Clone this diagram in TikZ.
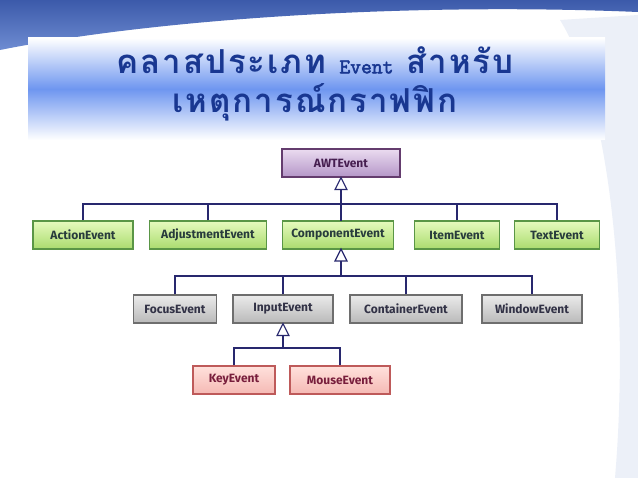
\documentclass[tikz,border=0pt]{standalone}
\usepackage{fontspec}
\setsansfont{Fira Sans}
\newfontfamily\thaifont[Script=Thai,LetterSpace=6]{Loma}
\newfontfamily\monof[FakeBold=2.5]{Latin Modern Mono}
\usetikzlibrary{shadings}
\definecolor{navy}{RGB}{40,40,110}
\definecolor{ttl}{RGB}{25,55,145}
\definecolor{gD}{RGB}{90,150,70}\definecolor{gT}{RGB}{230,250,190}\definecolor{gB}{RGB}{170,220,110}\definecolor{gX}{RGB}{40,60,60}
\definecolor{yD}{RGB}{110,110,110}\definecolor{yT}{RGB}{235,235,235}\definecolor{yB}{RGB}{185,185,185}\definecolor{yX}{RGB}{50,50,70}
\definecolor{pD}{RGB}{100,60,110}\definecolor{pT}{RGB}{235,220,240}\definecolor{pB}{RGB}{180,150,200}\definecolor{pX}{RGB}{70,30,80}
\definecolor{kD}{RGB}{190,90,90}\definecolor{kT}{RGB}{255,225,220}\definecolor{kB}{RGB}{245,185,180}\definecolor{kX}{RGB}{120,30,60}
\definecolor{bgT}{RGB}{60,90,170}\definecolor{bgB}{RGB}{110,140,210}\definecolor{bgR}{RGB}{236,240,248}\definecolor{ban}{RGB}{110,150,240}
\tikzset{
 cls/.style={draw, line width=1.2pt, minimum height=28pt, inner sep=0pt, font=\sffamily\bfseries\fontsize{12}{14}\selectfont},
 grn/.style={cls, draw=gD, top color=gT, bottom color=gB, text=gX},
 gry/.style={cls, draw=yD, top color=yT, bottom color=yB, text=yX},
 prp/.style={cls, draw=pD, top color=pT, bottom color=pB, text=pX},
 pnk/.style={cls, draw=kD, top color=kT, bottom color=kB, text=kX},
 wire/.style={draw=navy, line width=1.3pt},
 inh/.style={draw=navy, fill=white, line width=1.2pt},
 ttlf/.style={text=ttl, font=\thaifont\bfseries\fontsize{33}{36}\selectfont},
}
\begin{document}
\begin{tikzpicture}[x=1pt,y=-1pt]
\useasboundingbox (0,0) rectangle (638,478);
\fill[white] (0,0) rectangle (638,478);
\fill[bgR] (560,20) -- (638,15) -- (638,478) -- (615,478) .. controls (630,300) and (610,100) .. (560,20);
\shade[top color=bgT, bottom color=bgB]
  (0,0) -- (638,0) -- (638,12) .. controls (400,2) and (150,20) .. (0,50) -- cycle;
\shade[top color=white, bottom color=white, middle color=ban] (28,38) rectangle (605,140);
\node[ttlf] (t1) at (315,60) {คลาสประเภท {\monof\fontsize{21}{22}\selectfont Event} สำหรับ};
\node[ttlf] (t2) at (315,102) {เหตุการณ์กราฟฟิก};

\node[prp, minimum width=118pt] (awt) at (341,163) {AWTEvent};
\node[grn, minimum width=100pt] (act) at (83,235) {ActionEvent};
\node[grn, minimum width=117pt] (adj) at (208,235) {AdjustmentEvent};
\node[grn, minimum width=111pt] (comp) at (338,235) {ComponentEvent};
\node[grn, minimum width=85pt] (item) at (457,235) {ItemEvent};
\node[grn, minimum width=85pt] (text) at (557,235) {TextEvent};
\node[gry, minimum width=83pt] (focus) at (175,309) {FocusEvent};
\node[gry, minimum width=100pt] (input) at (283,309) {InputEvent};
\node[gry, minimum width=112pt] (cont) at (406,309) {ContainerEvent};
\node[gry, minimum width=100pt] (win) at (532,309) {WindowEvent};
\node[pnk, minimum width=82pt] (key) at (234,380) {KeyEvent};
\node[pnk, minimum width=100pt] (mouse) at (340,380) {MouseEvent};

\coordinate (b1) at (341,204);
\draw[wire] (act.north) |- (b1) -| (text.north);
\draw[wire] (adj.north) -- (adj.north |- b1);
\draw[wire] (item.north) -- (item.north |- b1);
\draw[wire] (b1) -- (341,189);
\draw[wire] (341,221) -- (b1);
\draw[inh] (awt.south) -- ++(-6,12) -- ++(12,0) -- cycle;

\coordinate (b2) at (341,276);
\draw[wire] (focus.north) |- (b2) -| (win.north);
\draw[wire] (input.north) -- (input.north |- b2);
\draw[wire] (cont.north) -- (cont.north |- b2);
\draw[wire] (b2) -- (341,261);
\draw[inh] (341,249) -- ++(-6,12) -- ++(12,0) -- cycle;

\coordinate (b3) at (283,348);
\draw[wire] (key.north) |- (b3) -| (mouse.north);
\draw[wire] (b3) -- (283,335);
\draw[inh] (input.south) -- ++(-6,12) -- ++(12,0) -- cycle;
\end{tikzpicture}
\end{document}
